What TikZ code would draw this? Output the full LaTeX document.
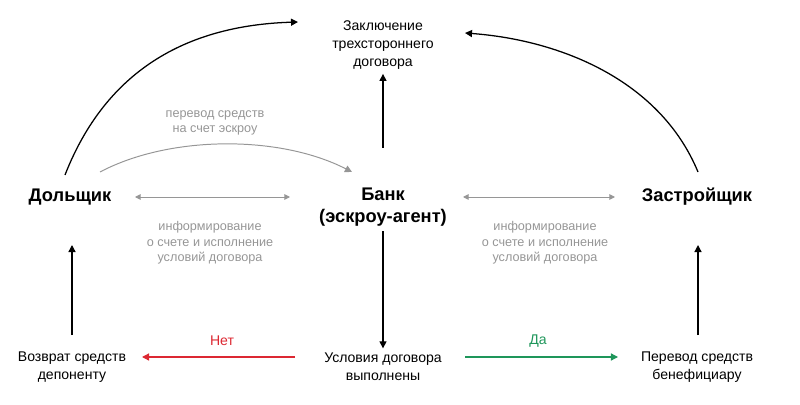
\documentclass[tikz,border=0pt]{standalone}
\usepackage{fontspec}
\setmainfont{Liberation Sans}
\usetikzlibrary{arrows.meta}
\definecolor{gr}{RGB}{150,150,150}
\definecolor{redc}{RGB}{220,40,50}
\definecolor{grn}{RGB}{30,150,90}
\tikzset{
 txt/.style={align=center,font=\fontsize{10}{12.5}\selectfont},
 big/.style={align=center,font=\fontsize{13}{15.5}\selectfont\bfseries},
 lab/.style={align=center,text=gr,font=\fontsize{9}{11}\selectfont},
 arr/.style={-{Triangle[length=5pt,width=5pt]},line width=0.9pt},
 garr/.style={{Triangle[length=4pt,width=4pt]}-{Triangle[length=4pt,width=4pt]},gr,line width=0.7pt},
}
\begin{document}
\begin{tikzpicture}[x=0.025cm,y=-0.025cm]
\useasboundingbox (0,0) rectangle (800,405);
\node[txt] (top) at (383,45) {Заключение\\трехстороннего\\договора};
\node[big] (dol) at (70,197) {Дольщик};
\node[big] (bank) at (383,207) {Банк\\(эскроу-агент)};
\node[big] (zas) at (697,197) {Застройщик};
\node[txt] (voz) at (72,367) {Возврат средств\\депоненту};
\node[txt] (usl) at (383,367) {Условия договора\\выполнены};
\node[txt] (per) at (697,367) {Перевод средств\\бенефициару};
\node[lab] (l1) at (215,123) {перевод средств\\на счет эскроу};
\node[lab] (l2) at (210,243) {информирование\\о счете и исполнение\\условий договора};
\node[lab] (l3) at (545,243) {информирование\\о счете и исполнение\\условий договора};
\node[text=redc,font=\fontsize{10}{12}\selectfont] (net) at (222,341) {Нет};
\node[text=grn,font=\fontsize{10}{12}\selectfont] (da) at (538,341) {Да};
\coordinate (a1) at (65,175); \coordinate (a2) at (298,22);
\coordinate (b1) at (698,172); \coordinate (b2) at (465,33);
\coordinate (c1) at (100,172); \coordinate (c2) at (352,172);
\draw[arr] (a1) .. controls (110,60) and (200,25) .. (a2);
\draw[arr] (b1) .. controls (660,80) and (560,40) .. (b2);
\draw[arr,gr,line width=0.7pt] (c1) .. controls (170,135) and (280,135) .. (c2);
\draw[arr] (383,148) -- (top.south);
\draw[garr] (135,197) -- (290,197);
\draw[garr] (463,197) -- (615,197);
\draw[arr] (bank.south) -- (usl.north);
\draw[arr,redc] (295,357) -- (142,357);
\draw[arr,grn] (465,357) -- (618,357);
\draw[arr] (72,335) -- (72,245);
\draw[arr] (698,335) -- (698,245);
\end{tikzpicture}
\end{document}
